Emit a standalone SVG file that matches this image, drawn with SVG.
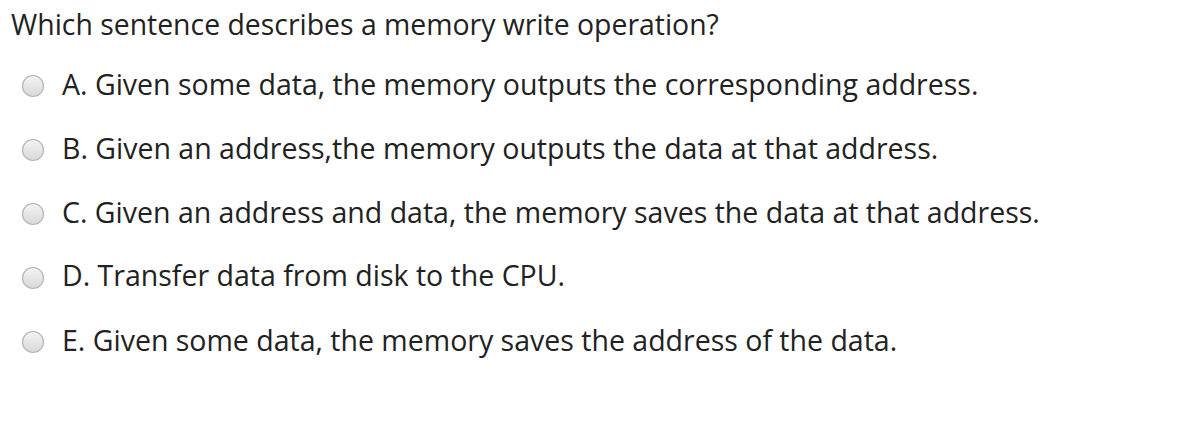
<svg xmlns="http://www.w3.org/2000/svg" width="1198" height="432" viewBox="0 0 1198 432">
<style>
text{font-family:"Open Sans","Liberation Sans",sans-serif;font-size:28.5px;fill:#222}
.r{fill:url(#g);stroke:#b5b5b5;stroke-width:1.2}
</style>
<defs><linearGradient id="g" x1="0" y1="0" x2="0" y2="1"><stop offset="0" stop-color="#f4f4f4"/><stop offset="1" stop-color="#d8d8d8"/></linearGradient></defs>
<rect width="1198" height="432" fill="#fff"/>
<text x="11" y="35" style="font-size:28.4px">Which sentence describes a memory write operation?</text>
<g id="optA"><circle class="r" cx="33" cy="86" r="10.5"/><text x="62" y="95">A. Given some data, the memory outputs the corresponding address.</text></g>
<g id="optB"><circle class="r" cx="33" cy="150" r="10.5"/><text x="62" y="159">B. Given an address,the memory outputs the data at that address.</text></g>
<g id="optC"><circle class="r" cx="33" cy="214" r="10.5"/><text x="62" y="223">C. Given an address and data, the memory saves the data at that address.</text></g>
<g id="optD"><circle class="r" cx="33" cy="278" r="10.5"/><text x="62" y="286">D. Transfer data from disk to the CPU.</text></g>
<g id="optE"><circle class="r" cx="33" cy="342" r="10.5"/><text x="62" y="351">E. Given some data, the memory saves the address of the data.</text></g>
<g id="connectors"/>
</svg>
